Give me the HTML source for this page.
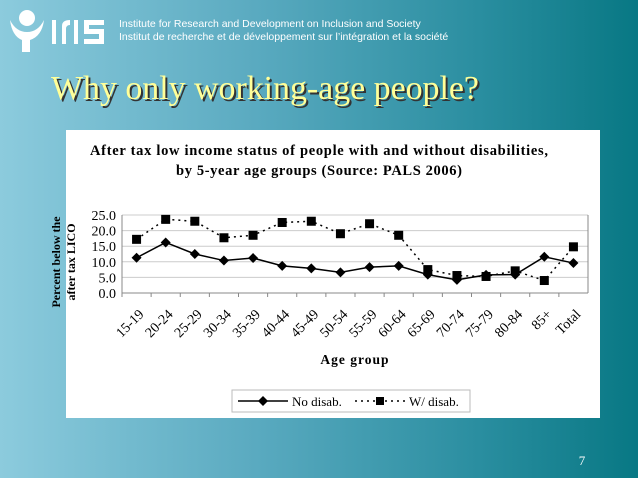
<!DOCTYPE html>
<html><head><meta charset="utf-8"><style>
body{margin:0;width:638px;height:478px;overflow:hidden;font-family:"Liberation Serif",serif}
#bg{position:absolute;left:0;top:0;width:638px;height:478px;background:linear-gradient(90deg,#8ccbdd 0%,#5aaac0 40%,#2a8ea0 75%,#087884 100%)}
</style></head><body>
<div id="bg"></div>
<svg width="638" height="478" style="position:absolute;left:0;top:0">
<g fill="#fff">
<circle cx="27" cy="18" r="8"/>
<path d="M10 20 Q12 36 22 40 L22 52 L30 52 L30 40 Q42 36 44 20 Q38 32 27 32 Q16 32 10 20Z"/>
<rect x="52" y="20" width="4" height="24"/><path d="M62 44 V26 Q62 20 70 20 V25 Q66 25 66 29 V44Z"/><rect x="74" y="20" width="4" height="24"/>
<path d="M84 20 H104 V25 H89 V29 H104 V44 H84 V39 H99 V34 H84Z"/>
</g>
<text x="119" y="27" font-family="Liberation Sans" font-size="10.5" fill="#fff">Institute for Research and Development on Inclusion and Society</text>
<text x="119" y="40" font-family="Liberation Sans" font-size="10.5" fill="#fff">Institut de recherche et de développement sur l’intégration et la société</text>
<text x="53" y="101" font-size="34" fill="#333" textLength="428">Why only working-age people?</text>
<text x="51" y="99" font-size="34" fill="#ffff99" textLength="428">Why only working-age people?</text>
<rect x="66" y="130" width="534" height="288" fill="#fff"/>
<text x="319" y="155" text-anchor="middle" font-size="14.5" font-weight="bold" textLength="458">After tax low income status of people with and without disabilities,</text>
<text x="319" y="175" text-anchor="middle" font-size="14.5" font-weight="bold" textLength="286">by 5-year age groups (Source: PALS 2006)</text>
<g id="chart"></g>
<text transform="translate(60,262) rotate(-90)" text-anchor="middle" font-size="12" font-weight="bold">Percent below the</text>
<text transform="translate(75,262) rotate(-90)" text-anchor="middle" font-size="12" font-weight="bold">after tax LICO</text>
<text x="355" y="364" text-anchor="middle" font-size="13.5" font-weight="bold" letter-spacing="1">Age group</text>
<g>
<rect x="232" y="390" width="238" height="22" fill="#fff" stroke="#bbb"/>
<line x1="238" y1="401" x2="288" y2="401" stroke="#000" stroke-width="1.5"/><path d="M263 396 L268 401 L263 406 L258 401Z"/>
<text x="292" y="406" font-size="13">No disab.</text>
<line x1="355" y1="401" x2="405" y2="401" stroke="#000" stroke-width="1.5" stroke-dasharray="2,4"/><rect x="376" y="397" width="8" height="8"/>
<text x="409" y="406" font-size="13">W/ disab.</text>
</g>
<text x="582" y="465" text-anchor="middle" font-size="13" fill="#fff">7</text>
</svg>
<script>
const categories=["15-19","20-24","25-29","30-34","35-39","40-44","45-49","50-54","55-59","60-64","65-69","70-74","75-79","80-84","85+","Total"];
const noDisab=[11.3,16.2,12.5,10.4,11.2,8.7,7.9,6.6,8.3,8.7,5.9,4.2,5.8,5.9,11.6,9.6];
const wDisab=[17.2,23.6,23.0,17.7,18.5,22.6,23.0,19.0,22.2,18.5,7.5,5.6,5.3,7.1,4.0,14.8];
const yTicks=[0,5,10,15,20,25];
const NS="http://www.w3.org/2000/svg",g=document.getElementById('chart');
const L=122,R=588,T=215,B=293;
const x=i=>L+(i+0.5)*(R-L)/categories.length, y=v=>B-(v/25)*(B-T);
function mk(t,a,p){const e=document.createElementNS(NS,t);for(const k in a)e.setAttribute(k,a[k]);(p||g).appendChild(e);return e;}
yTicks.forEach(v=>{const l=mk('line',{x1:L,x2:R,y1:y(v),y2:y(v),stroke:v?'#ccc':'#888'});


const t=mk('text',{x:L-6,y:y(v)+5,'text-anchor':'end','font-size':14});t.textContent=v.toFixed(1);

});
mk('line',{x1:R,x2:R,y1:T,y2:B,stroke:'#888'});mk('line',{x1:L,x2:L,y1:T,y2:B,stroke:'#888'});
categories.forEach((c,i)=>{mk('line',{x1:L+i*(R-L)/16,x2:L+i*(R-L)/16,y1:B,y2:B+4,stroke:'#888'});
const t=mk('text',{transform:`translate(${x(i)+8},${B+22}) rotate(-45)`,'text-anchor':'end','font-size':14});t.textContent=c;

});
const p1=mk('polyline',{points:noDisab.map((v,i)=>x(i)+','+y(v)).join(' '),fill:'none',stroke:'#000','stroke-width':1.5});


const p2=mk('polyline',{points:wDisab.map((v,i)=>x(i)+','+y(v)).join(' '),fill:'none',stroke:'#000','stroke-width':1.5,'stroke-dasharray':'2,4'});


noDisab.forEach((v,i)=>{const m=mk('path',{d:`M${x(i)} ${y(v)-5}L${x(i)+5} ${y(v)}L${x(i)} ${y(v)+5}L${x(i)-5} ${y(v)}Z`});

});
wDisab.forEach((v,i)=>{const m=mk('rect',{x:x(i)-4.5,y:y(v)-4.5,width:9,height:9});

});
</script>
</body></html>
